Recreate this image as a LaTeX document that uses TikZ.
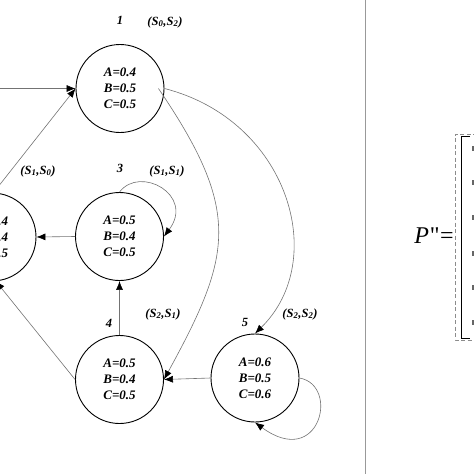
\documentclass[tikz,border=0pt]{standalone}
\usepackage{fontspec}
\setmainfont{Liberation Serif}
\newfontfamily\plainserif{Liberation Serif}
\usetikzlibrary{arrows.meta}
\tikzset{
  state/.style={circle, draw=black, line width=0.9pt, minimum size=88pt, inner sep=0pt,
    align=center, font=\fontsize{13}{16}\selectfont\bfseries\itshape},
  lbl/.style={font=\fontsize{12.5}{14}\selectfont\bfseries\itshape, inner sep=0pt},
  edge/.style={draw=black!55, line width=0.6pt, -{Latex[length=9pt,width=7pt,color=black,fill=black]}},
}
\begin{document}
\begin{tikzpicture}[x=1pt,y=-1pt]
\useasboundingbox (0,0) rectangle (474,474);
\clip (0,0) rectangle (474,474);
% states
\node[state] (n1) at (120,88.5) {A=0.4\\B=0.5\\C=0.5};
\node[state] (n2) at (-8,237) {A=0.4\\B=0.4\\C=0.5};
\node[state] (n3) at (119.5,236.5) {A=0.5\\B=0.4\\C=0.5};
\node[state] (n4) at (119.5,379.5) {A=0.5\\B=0.4\\C=0.5};
\node[state] (n5) at (255,378) {A=0.6\\B=0.5\\C=0.6};
% labels
\node[lbl] (l1) at (120,20) {1};
\node[lbl] (s1) at (165,22) {(S\textsubscript{0},S\textsubscript{2})};
\node[lbl] (l3) at (120,168) {3};
\node[lbl] (s3) at (167,171) {(S\textsubscript{1},S\textsubscript{1})};
\node[lbl] (s2) at (38,171) {(S\textsubscript{1},S\textsubscript{0})};
\node[lbl] (l4) at (109,323) {4};
\node[lbl] (s4) at (163,314) {(S\textsubscript{2},S\textsubscript{1})};
\node[lbl] (l5) at (245,322) {5};
\node[lbl] (s5) at (300,314) {(S\textsubscript{2},S\textsubscript{2})};
% connectors
\coordinate (in0) at (-2,88.5);
\draw[edge] (in0) -- (n1.west);
\draw[edge] (n2.88) -- (n1.west);
\draw[edge] (n1.east) .. controls (288,120) and (330,260) .. (n5.north);
\draw[edge] ([xshift=-6pt]n1.east) .. controls (242,211.5) and (232.4,254.6) .. (n4.east);
\draw[edge] (n5.west) -- (n4.east);
\draw[edge] (n4.north) -- (n3.south);
\draw[edge] (n3.west) -- (n2.east);
\draw[edge] (n4.west) -- (n2.-85);
\draw[edge] (n3.north) .. controls (140,165) and (195,195) .. (n3.east);
\draw[edge] (n5.east) .. controls (340,385) and (320,470) .. (n5.south);
% separator
\coordinate (septop) at (365,-2);
\coordinate (sepbot) at (365,476);
\draw[draw=black!40, line width=0.7pt] (septop) -- (sepbot);
% matrix
\node[font=\fontsize{24}{26}\selectfont, anchor=base east, inner sep=0pt] (peq) at (454,243) {\textit{P}\kern1pt{\plainserif"}\kern0.5pt=};
\draw[draw=black!45, dashed, dash pattern=on 4pt off 2.5pt, line width=0.6pt] (490,134) -- (455,134) -- (455,340) -- (490,340);
\draw[black, line width=1pt] (470,136) -- (461.5,136) -- (461.5,338) -- (470,338);
\foreach \yy in {148,182,217,253,287,322}
  \fill[black!60] (471.5,\yy-2.5) rectangle (474,\yy+2.5);
\end{tikzpicture}
\end{document}
